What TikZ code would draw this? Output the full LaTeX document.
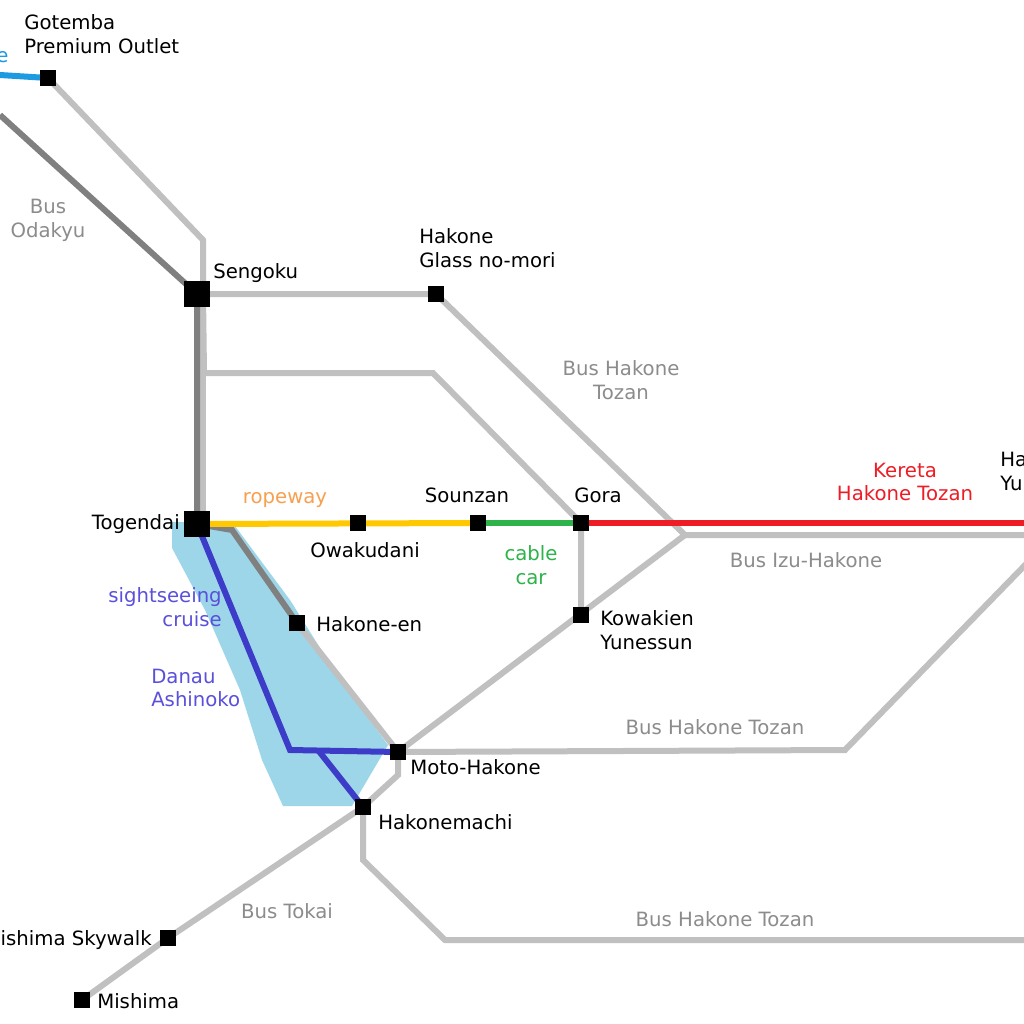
\documentclass[tikz,border=0pt]{standalone}
\usepackage{fontspec}
\setmainfont{DejaVu Sans}
\begin{document}
\begin{tikzpicture}[x=0.025cm,y=-0.025cm,
 lg/.style={draw=lgray,line width=6*0.025cm},
 dg/.style={draw=dgray,line width=6*0.025cm},
 st/.style={fill=black,minimum size=16*0.025cm,inner sep=0,draw=none},
 bst/.style={fill=black,minimum size=26*0.025cm,inner sep=0,draw=none},
 lb/.style={font=\fontsize{14}{17}\selectfont,align=left,inner sep=0},
 gl/.style={lb,text=tgray}]
\definecolor{lgray}{HTML}{C0C0C0}
\definecolor{dgray}{HTML}{808080}
\definecolor{tgray}{HTML}{8C8C8C}
\definecolor{cyanl}{HTML}{1E9BE0}
\definecolor{lake}{HTML}{9DD6E8}
\definecolor{cruise}{HTML}{3C3CC8}
\definecolor{cruiset}{HTML}{5A50DC}
\definecolor{ropey}{HTML}{FFC800}
\definecolor{ropet}{HTML}{F7A050}
\definecolor{cablec}{HTML}{2DB34A}
\definecolor{redl}{HTML}{EE1C25}
\useasboundingbox (0,0) rectangle (1024,1024);
\clip (0,0) rectangle (1024,1024);
\fill[white] (0,0) rectangle (1024,1024);
% lake
\fill[lake] (172,522) -- (232,522) -- (290,600) -- (340,680) -- (388,745) -- (352,806) -- (283,806) -- (262,760) -- (240,690) -- (205,610) -- (172,548) -- cycle;
% stations
\node[st] (gotemba) at (48,78) {};
\node[bst] (sengoku) at (197,294) {};
\node[st] (glass) at (436,294) {};
\node[bst] (togendai) at (197,524) {};
\node[st] (owaku) at (358,523) {};
\node[st] (sounzan) at (478,523) {};
\node[st] (gora) at (581,523) {};
\node[st] (kowa) at (581,615) {};
\node[st] (hakoneen) at (297,623) {};
\node[st] (moto) at (398,752) {};
\node[st] (machi) at (363,807) {};
\node[st] (skywalk) at (168,938) {};
\node[st] (mishima) at (82,1000) {};
\coordinate (lcyan) at (0,75);
\coordinate (ldark) at (0,115);
\coordinate (g1) at (203,240);
\coordinate (j1) at (685,535);
\coordinate (e1) at (1030,535);
\coordinate (s1) at (204,373);
\coordinate (s2) at (433,373);
\coordinate (m1) at (845,750);
\coordinate (m2) at (1030,560);
\coordinate (h1) at (363,860);
\coordinate (h2) at (445,940);
\coordinate (h3) at (1030,940);
\coordinate (redend) at (1030,523);
\coordinate (c1) at (290,750);
\coordinate (c2) at (318,750);
\draw[lg] (gotemba.center) -- (g1) -- (203,294);
\draw[lg] (sengoku.center) -- (glass.center) -- (j1) -- (e1);
\draw[lg] (203,294) -- (s1) -- (s2) -- (gora.center) -- (kowa.center);
\draw[lg] (moto.center) -- (j1);
\draw[lg] (hakoneen.center) -- (moto.center) -- (m1) -- (m2);
\draw[lg] (moto.center) -- (398,775) -- (machi.center);
\draw[lg] (machi.center) -- (h1) -- (h2) -- (h3);
\draw[lg] (machi.center) -- (skywalk.center) -- (mishima.center);
\draw[lg] (203,305) -- (203,520);
\draw[dg] (ldark) -- (sengoku.center) -- (togendai.center);
\draw[dg] (togendai.center) -- (232,530) -- (hakoneen.center);
\draw[cyanl,line width=6*0.025cm] (lcyan) -- (gotemba.center);
\draw[cruise,line width=6*0.025cm] (togendai.center) -- (c1) -- (moto.center);
\draw[cruise,line width=6*0.025cm] (c2) -- (machi.center);
\draw[ropey,line width=6*0.025cm] (togendai.center) -- (sounzan.center);
\draw[cablec,line width=6*0.025cm] (sounzan.center) -- (gora.center);
\draw[redl,line width=6*0.025cm] (gora.center) -- (redend);
\foreach \n in {gotemba,glass,owaku,sounzan,gora,kowa,hakoneen,moto,machi,skywalk,mishima,sengoku,togendai}{\fill[black] (\n.south west) rectangle (\n.north east);}
% labels
\node[lb,anchor=west,text=cyanl] (le) at (-4,57) {e};
\node[lb,anchor=north west] (lgot) at (24,14) {Gotemba\\Premium Outlet};
\node[gl,align=center] (lodak) at (48,220) {Bus\\Odakyu};
\node[lb,anchor=west] (lsen) at (213,273) {Sengoku};
\node[lb,anchor=north west] (lgla) at (419,228) {Hakone\\Glass no-mori};
\node[gl,align=center] (lbht1) at (621,380) {Bus Hakone\\Tozan};
\node[lb,anchor=east] (ltog) at (180,524) {Togendai};
\node[lb,text=ropet] (lrope) at (285,500) {ropeway};
\node[lb] (lowa) at (365,550) {Owakudani};
\node[lb] (lsou) at (467,495) {Sounzan};
\node[lb] (lgora) at (598,495) {Gora};
\node[lb,align=center,text=cablec] (lcab) at (531,565) {cable\\car};
\node[lb,align=center,text=redl] (lker) at (905,482) {Kereta\\Hakone Tozan};
\node[lb,anchor=north west] (lyum) at (1000,451) {Hakone\\Yumoto};
\node[gl] (lizu) at (806,560) {Bus Izu-Hakone};
\node[lb,anchor=north west] (lkow) at (600,610) {Kowakien\\Yunessun};
\node[lb,anchor=west] (lhen) at (316,624) {Hakone-en};
\node[lb,align=right,text=cruiset,anchor=east] (lcru) at (222,607) {sightseeing\\cruise};
\node[lb,align=left,text=cruiset,anchor=west] (ldan) at (151,688) {Danau\\Ashinoko};
\node[gl] (lbht2) at (715,727) {Bus Hakone Tozan};
\node[lb,anchor=west] (lmot) at (410,767) {Moto-Hakone};
\node[lb,anchor=west] (lmac) at (378,822) {Hakonemachi};
\node[gl] (ltok) at (287,911) {Bus Tokai};
\node[gl] (lbht3) at (725,919) {Bus Hakone Tozan};
\node[lb,anchor=east] (lsky) at (152,940) {Mishima Skywalk};
\node[lb,anchor=west] (lmis) at (97,1001) {Mishima};
\end{tikzpicture}
\end{document}
